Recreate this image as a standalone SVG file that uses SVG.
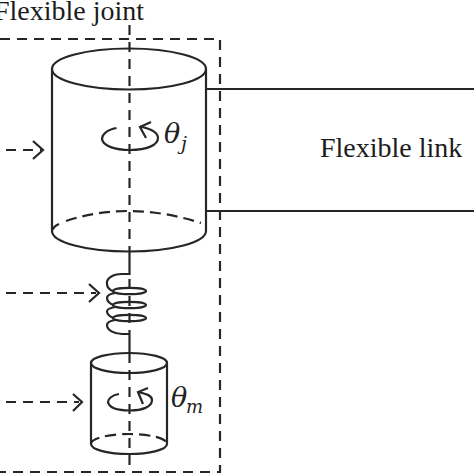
<svg xmlns="http://www.w3.org/2000/svg" width="474" height="474" viewBox="0 0 474 474">
<style>
.s{fill:none;stroke:#262626;stroke-width:2.200}
.d{fill:none;stroke:#262626;stroke-width:2.200;stroke-dasharray:10 7}
.t{font-family:"Liberation Serif",serif;fill:#1c1c1c;font-size:28px}
.g{font-family:"DejaVu Serif","Liberation Serif",serif;font-style:italic;fill:#222}
</style>
<rect width="474" height="474" fill="#fff"/>
<g id="frame"><path class="d" d="M0 39H220V472H0"/></g>
<g id="axis"><path class="d" d="M129.500 25V251"/><path class="s" d="M129.500 251V275"/><path class="d" d="M129.500 279V335"/><path class="s" d="M129.500 335V353"/><path class="d" d="M129.500 353V472"/></g>
<g id="big-cylinder">
<ellipse class="s" cx="129" cy="69" rx="77" ry="20.500"/>
<path class="s" d="M52 69V231A77 20.500 0 0 0 206 231V69"/>
<path class="s" d="M52 230Q54 226 59 224"/>
<path class="d" d="M66 221Q129 200 201 223" style="stroke-dasharray:11 6"/>
</g>
<g id="small-cylinder">
<ellipse class="s" cx="129" cy="363" rx="38" ry="10"/>
<path class="s" d="M91 363V444A38 10 0 0 0 167 444V363"/>
<path class="d" d="M91 444A38 10 0 0 1 167 444" style="stroke-dasharray:11 6"/>
</g>
<g id="spring">
<ellipse class="s" cx="129.500" cy="291" rx="16.500" ry="3.200"/>
<ellipse class="s" cx="129.500" cy="305" rx="16.500" ry="3.200"/>
<ellipse class="s" cx="129.500" cy="318" rx="16.500" ry="3.200"/>
<path class="s" d="M129.500 274H122C112 274 106 279 107 284C107 288 110 290 113.500 291.500"/>
<path class="s" d="M115 293C109 294 107 296 107 298C107 301 110 304 113.500 305"/>
<path class="s" d="M115 307C109 308 107 309 107 311.500C107 314 110 317 113.500 318"/>
<path class="s" d="M115 320C109 321 107 323 107 325C107 330 114 334 122 334H129.500"/>
</g>
<g id="connectors">
<path class="s" d="M206 89H474M206 211H474"/>
<path class="d" d="M6 150H41"/><path class="s" d="M33 141L43 150L33 159"/>
<path class="d" d="M6 293H96"/><path class="s" d="M89 284L99 293L89 302"/>
<path class="d" d="M6 402H79"/><path class="s" d="M73 394L82 402L73 411"/>
</g>
<g id="rot-j"><path class="s" d="M116.500 128C106 130 102 135 102 139C103 146 115 150 130 150C147 150 158 145 158 138C158 133 152 129 140 126.500"/><path class="s" d="M146 138L140 127L151 122"/></g>
<g id="rot-m"><path class="s" d="M119 394C112 395 108 399 108 402C109 408 118 410.500 130 410.500C142 410.500 152 407 152 400C152 396 148 394 138 392"/><path class="s" d="M143 404L138 392L148 388"/></g>
<g id="labels">
<text class="t" x="-6" y="20">Flexible joint</text>
<text class="t" x="320" y="157">Flexible link</text>
<text class="g" x="164" y="143" font-size="27">θ</text>
<text class="g" x="181" y="150" font-size="19">j</text>
<text class="g" x="171" y="407" font-size="27">θ</text>
<text class="g" x="186" y="413" font-size="18">m</text>
</g>
</svg>
